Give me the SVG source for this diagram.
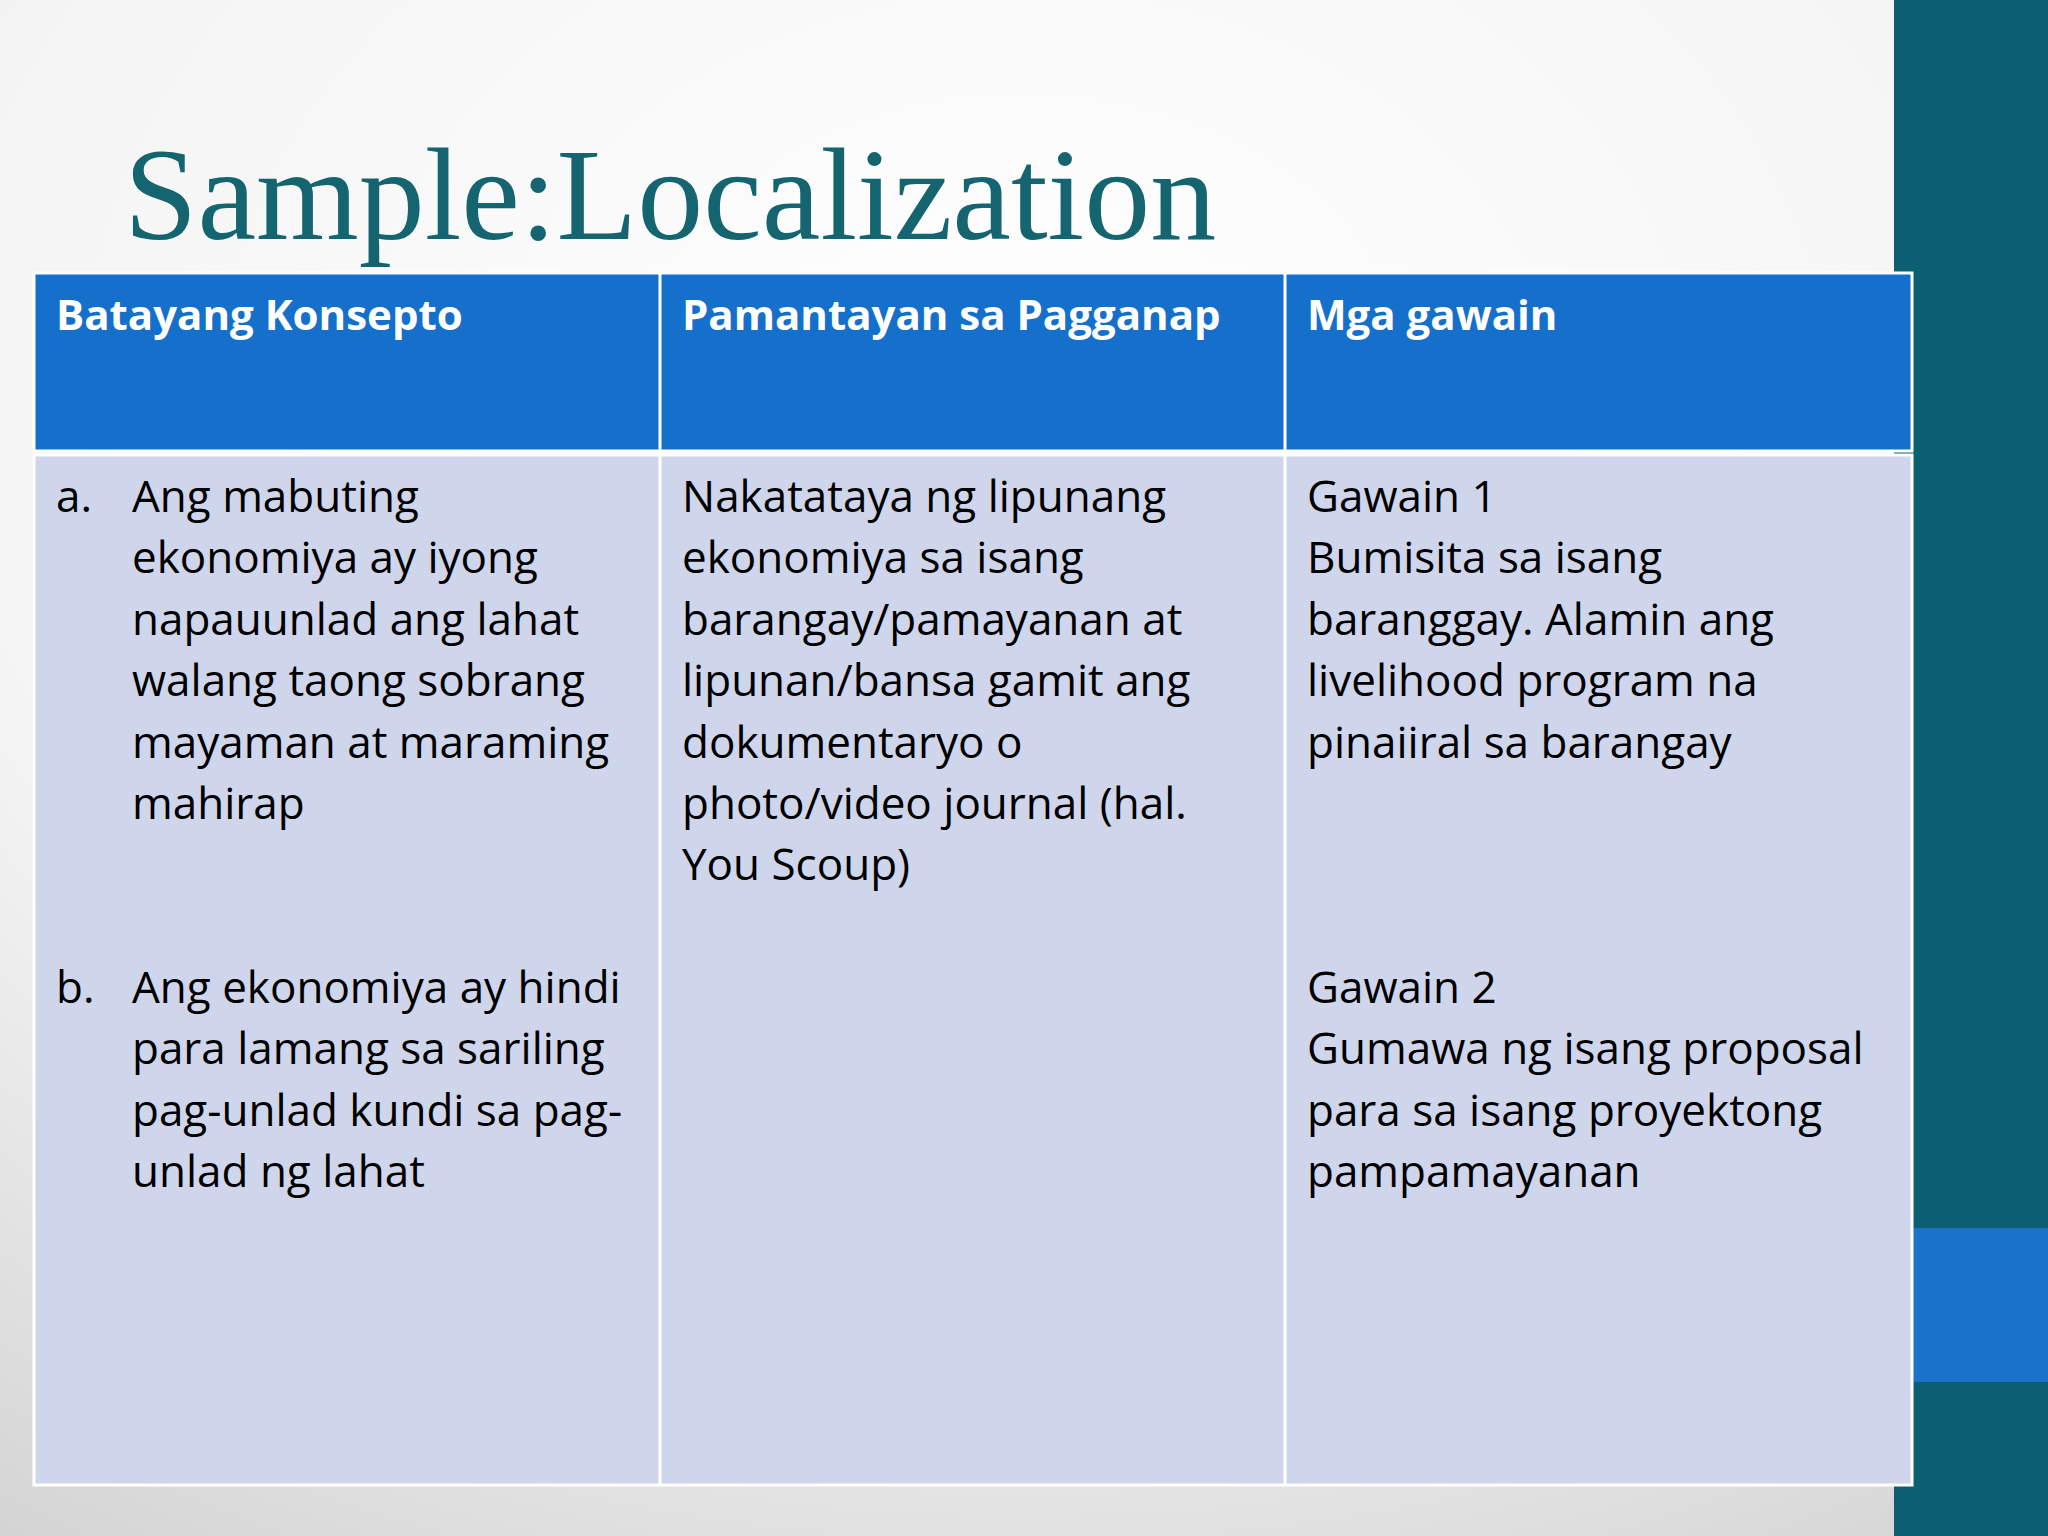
<svg xmlns="http://www.w3.org/2000/svg" width="2048" height="1536" viewBox="0 0 2048 1536">
<defs>
<radialGradient id="bg" cx="0.5" cy="0.25" r="0.9">
<stop offset="0" stop-color="#ffffff"/><stop offset="0.6" stop-color="#f4f4f4"/><stop offset="1" stop-color="#d4d4d4"/>
</radialGradient>
<style>
.h{font-family:"Open Sans","DejaVu Sans",sans-serif;font-size:42px;font-weight:bold;fill:#fff}
.b{font-family:"Open Sans","DejaVu Sans",sans-serif;font-size:44px;fill:#000}
</style>
</defs>
<rect width="2048" height="1536" fill="url(#bg)"/>
<rect x="1894" y="0" width="154" height="1536" fill="#0a5f73"/>
<rect x="1913" y="1228" width="135" height="154" fill="#1a73c8"/>
<text x="124" y="239" font-family="Liberation Serif,serif" font-size="132" fill="#156570">Sample:Localization</text>
<g id="table" stroke="#fff" stroke-width="3">
<rect x="34" y="273" width="1878" height="178" fill="#1570cc"/>
<rect x="34" y="455" width="1878" height="1030" fill="#cfd5ea"/>
<line x1="660" y1="273" x2="660" y2="1485"/>
<line x1="1285" y1="273" x2="1285" y2="1485"/>
</g>
<g id="header">
<text class="h" x="56" y="330">Batayang Konsepto</text>
<text class="h" x="682" y="330">Pamantayan sa Pagganap</text>
<text class="h" x="1307" y="330">Mga gawain</text>
</g>
<g id="col1" class="b">
<text class="b" x="56" y="512">a.</text>
<text class="b" x="132" y="512">Ang mabuting</text>
<text class="b" x="132" y="573">ekonomiya ay iyong</text>
<text class="b" x="132" y="635">napauunlad ang lahat</text>
<text class="b" x="132" y="696">walang taong sobrang</text>
<text class="b" x="132" y="758">mayaman at maraming</text>
<text class="b" x="132" y="819">mahirap</text>
<text class="b" x="56" y="1003">b.</text>
<text class="b" x="132" y="1003">Ang ekonomiya ay hindi</text>
<text class="b" x="132" y="1064">para lamang  sa sariling</text>
<text class="b" x="132" y="1126">pag-unlad kundi sa pag-</text>
<text class="b" x="132" y="1187">unlad ng lahat</text>
</g>
<g id="col2">
<text class="b" x="682" y="512">Nakatataya ng lipunang</text>
<text class="b" x="682" y="573">ekonomiya sa isang</text>
<text class="b" x="682" y="635">barangay/pamayanan at</text>
<text class="b" x="682" y="696">lipunan/bansa gamit ang</text>
<text class="b" x="682" y="758">dokumentaryo o</text>
<text class="b" x="682" y="819">photo/video journal (hal.</text>
<text class="b" x="682" y="880">You Scoup)</text>
</g>
<g id="col3">
<text class="b" x="1307" y="512">Gawain 1</text>
<text class="b" x="1307" y="573">Bumisita sa isang</text>
<text class="b" x="1307" y="635">baranggay.  Alamin ang</text>
<text class="b" x="1307" y="696">livelihood program na</text>
<text class="b" x="1307" y="758">pinaiiral sa barangay</text>
<text class="b" x="1307" y="1003">Gawain 2</text>
<text class="b" x="1307" y="1064">Gumawa ng isang proposal</text>
<text class="b" x="1307" y="1126">para sa isang proyektong</text>
<text class="b" x="1307" y="1187">pampamayanan</text>
</g>
</svg>
